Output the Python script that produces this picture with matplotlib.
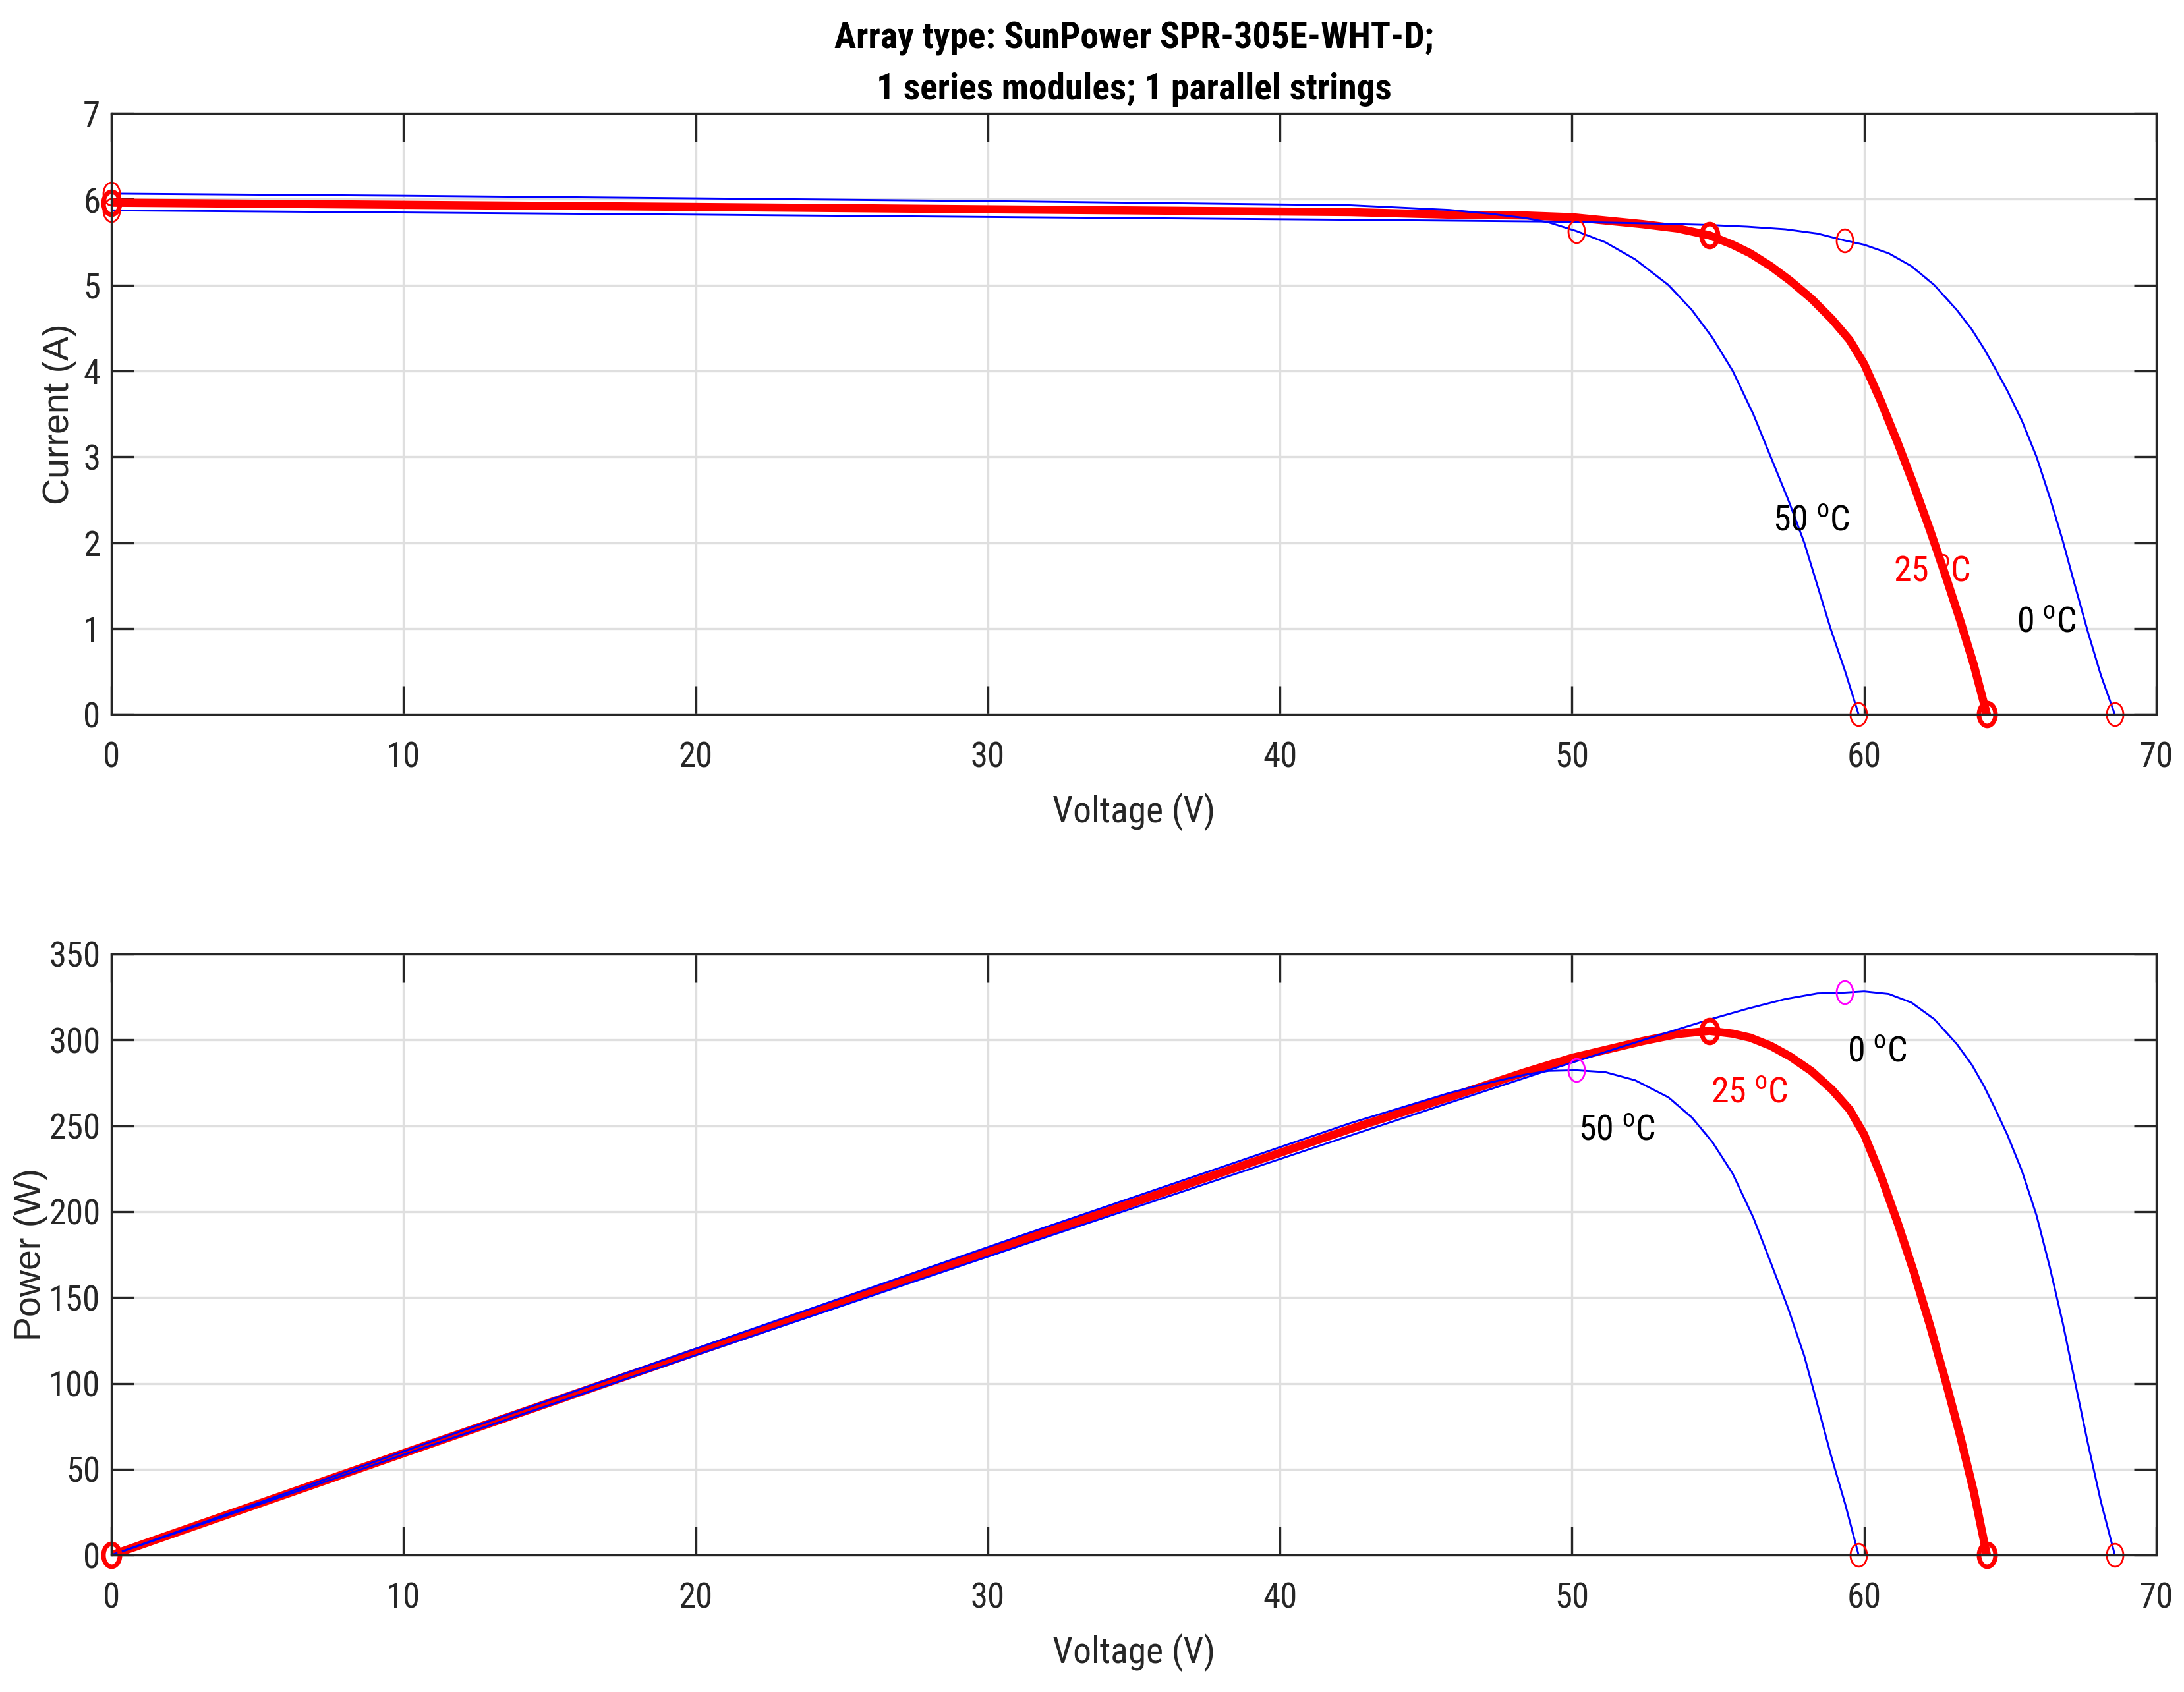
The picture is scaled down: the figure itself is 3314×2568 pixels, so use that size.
import numpy as np
import matplotlib
matplotlib.use("Agg")
import matplotlib.pyplot as plt
from matplotlib.path import Path

# curvas I-V (tension en V, corriente en A)
v_0c = [0, 10, 20, 31, 42.4, 45.8, 49.2, 52.4, 54.7, 56.0, 57.3, 58.4, 59.33, 60.0,
        60.84, 61.62, 62.4, 63.17, 63.69, 64.1, 64.5, 64.9, 65.4, 65.9, 66.35, 66.8, 67.2,
        67.65, 68.1, 68.58]
i_0c = [5.87, 5.845, 5.82, 5.79, 5.76, 5.75, 5.74, 5.72, 5.70, 5.68, 5.65, 5.60, 5.52, 5.47,
        5.37, 5.22, 5.0, 4.71, 4.48, 4.26, 4.02, 3.77, 3.42, 3.0, 2.53, 2.02, 1.52,
        0.97, 0.46, 0.0]

v_25c = [0, 10, 20, 31, 42.4, 45.8, 48.4, 50.0, 52.4, 53.6, 54.7, 55.5, 56.1, 56.8, 57.47,
         58.2, 58.9, 59.5, 60.0, 60.58, 61.15, 61.7, 62.25, 62.8, 63.3, 63.75, 64.2]
i_25c = [5.96, 5.935, 5.91, 5.88, 5.85, 5.82, 5.81, 5.79, 5.71, 5.66, 5.58, 5.47, 5.37, 5.22, 5.05,
         4.84, 4.60, 4.36, 4.08, 3.64, 3.16, 2.67, 2.15, 1.60, 1.08, 0.58, 0.0]

v_50c = [0, 10, 20, 31, 42.4, 45.8, 47.2, 48.4, 49.2, 50.14, 51.13, 52.16, 53.3, 54.1,
         54.8, 55.5, 56.2, 56.8, 57.4, 57.95, 58.4, 58.85, 59.35, 59.81]
i_50c = [6.065, 6.04, 6.01, 5.975, 5.93, 5.875, 5.83, 5.78, 5.73, 5.63, 5.50, 5.30, 5.0, 4.71,
         4.39, 4.0, 3.5, 3.0, 2.5, 2.0, 1.5, 1.0, 0.5, 0.0]

# puntos caracteristicos: Isc, punto de maxima potencia, Voc
isc = {"0": 5.87, "25": 5.96, "50": 6.065}
vmp = {"0": 59.33, "25": 54.7, "50": 50.14}
imp = {"0": 5.52, "25": 5.58, "50": 5.63}
voc = {"0": 68.58, "25": 64.2, "50": 59.81}

titulo = ["Array type: SunPower SPR-305E-WHT-D;", "1 series modules; 1 parallel strings"]

plt.rcParams["font.family"] = ["Roboto Condensed", "DejaVu Sans"]
plt.rcParams["mathtext.fontset"] = "custom"
plt.rcParams["mathtext.rm"] = "Roboto Condensed"
plt.rcParams["mathtext.it"] = "Roboto Condensed"

gris = "#262626"
azul = (0, 0, 1)
rojo = (1, 0, 0)
magenta = (1, 0, 1)

# circulo achatado (la figura original esta comprimida en horizontal)
t = np.linspace(0, 2 * np.pi, 60)
elipse = Path(np.column_stack([0.72 * np.cos(t), np.sin(t)]), closed=True)


def marca(ax, x, y, color, grueso=False):
    ax.plot(x, y, linestyle="none", marker=elipse, markersize=25,
            markerfacecolor="none", markeredgecolor=color,
            markeredgewidth=5 if grueso else 2, clip_on=False, zorder=5)


def ejes(ax, ymax, ypaso, ylabel, ylabel_x):
    ax.set_xlim(0, 70)
    ax.set_ylim(0, ymax)
    ax.set_xticks(np.arange(0, 71, 10))
    ax.set_yticks(np.arange(0, ymax + 1, ypaso))
    ax.grid(True, color="#dfdfdf", linewidth=2.4)
    ax.set_axisbelow(True)
    for s in ax.spines.values():
        s.set_color(gris)
        s.set_linewidth(2.4)
        s.set_zorder(6)
    ax.tick_params(direction="in", top=True, right=True, color=gris, width=2.4,
                   labelsize=38, labelcolor=gris)
    ax.tick_params(axis="x", length=31, pad=29)
    ax.tick_params(axis="y", length=24.5, pad=12)
    ax.set_xlabel("Voltage (V)", fontsize=40, color=gris, va="baseline")
    ax.xaxis.set_label_coords(0.5, -0.1797)
    ax.set_ylabel(ylabel, fontsize=40, color=gris, family="Liberation Sans", va="center")
    ax.yaxis.set_label_coords(ylabel_x, 0.5)


def etiqueta(ax, x, y, txt, color):
    ax.text(x, y, txt + r" $^{\mathrm{o}}$C", fontsize=39, color=color,
            ha="left", va="baseline", zorder=7)


fig = plt.figure(figsize=(33.14, 25.68), dpi=100)
ax1 = fig.add_axes([0.0510, 0.57769, 0.93634, 0.35533])
ax2 = fig.add_axes([0.0510, 0.08088, 0.93634, 0.35533])

curvas = [("25", v_25c, i_25c), ("0", v_0c, i_0c), ("50", v_50c, i_50c)]

# --- corriente ---
for k, v, i in curvas:
    if k == "25":
        ax1.plot(v, i, color=rojo, linewidth=9, zorder=3, solid_joinstyle="round")
    else:
        ax1.plot(v, i, color=azul, linewidth=2.1, zorder=4)
for k, v, i in curvas:
    g = k == "25"
    marca(ax1, [0, vmp[k], voc[k]], [isc[k], imp[k], 0], rojo, g)

ejes(ax1, 7, 1, "Current (A)", -0.0255)
etiqueta(ax1, 56.87, 2.14, "50", "black")
etiqueta(ax1, 61.0, 1.55, "25", rojo)
etiqueta(ax1, 65.21, 0.96, "0", "black")

# --- potencia ---
for k, v, i in curvas:
    p = np.array(v) * np.array(i)
    if k == "25":
        ax2.plot(v, p, color=rojo, linewidth=9, zorder=3, solid_joinstyle="round")
    else:
        ax2.plot(v, p, color=azul, linewidth=2.1, zorder=4)
for k, v, i in curvas:
    g = k == "25"
    marca(ax2, [0, voc[k]], [0, 0], rojo, g)
    marca(ax2, [vmp[k]], [vmp[k] * imp[k]], rojo if g else magenta, g)

ejes(ax2, 350, 50, "Power (W)", -0.0393)
etiqueta(ax2, 59.41, 287.1, "0", "black")
etiqueta(ax2, 54.74, 263.3, "25", rojo)
etiqueta(ax2, 50.21, 241.3, "50", "black")

fig.text(0.5192, 0.97157, titulo[0], fontsize=40, fontweight="bold",
         ha="center", va="baseline", color="black")
fig.text(0.5192, 0.9412, titulo[1], fontsize=40, fontweight="bold",
         ha="center", va="baseline", color="black")

fig.savefig("out.png", dpi=100, facecolor="white")
